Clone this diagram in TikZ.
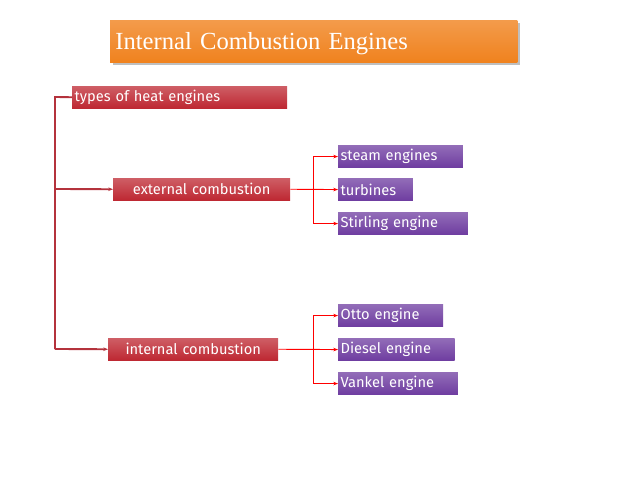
\documentclass[tikz,border=0pt]{standalone}
\usepackage{fontspec}
\setmainfont{Liberation Serif}
\newfontfamily\boxfont{Fira Sans}
\usetikzlibrary{arrows.meta,shadows}
\definecolor{hdOrange}{RGB}{240,130,30}
\definecolor{boxRed}{RGB}{190,40,50}
\definecolor{boxPurple}{RGB}{110,60,160}
\definecolor{trunkRed}{RGB}{180,50,60}

\begin{document}
\begin{tikzpicture}[x=0.03cm, y=-0.03cm,
        title/.style={rectangle, draw=none, top color=hdOrange!80, bottom color=hdOrange, minimum width=12.21cm, minimum height=1.26cm, font=\fontsize{21}{24}\selectfont, text=white, anchor=north west, text width=11.9cm, align=left, drop shadow},
        redbox/.style={rectangle, draw=none, top color=boxRed!75, bottom color=boxRed, minimum height=0.66cm, inner sep=2pt, font=\boxfont\fontsize{12.5}{14}\selectfont, text=white, anchor=north west, align=left},
        purplebox/.style={rectangle, draw=none, top color=boxPurple!75, bottom color=boxPurple, minimum height=0.68cm, inner sep=2pt, font=\boxfont\fontsize{12.5}{14}\selectfont, text=white, anchor=north west, align=left},
        trunk/.style={draw=trunkRed, line width=1.6pt, -{Stealth[length=4pt]}},
        branch/.style={draw=red, line width=0.8pt, -{Stealth[length=4pt]}}
    ]
        \useasboundingbox (0,0) rectangle (638,478);
        \node[title, text depth=0pt] (head) at (110,20) {Internal Combustion Engines};
        % left column
        \node[redbox, minimum width=6.45cm, text width=6.3cm] (types) at (72,86) {types of heat engines};
        \node[redbox, minimum width=5.31cm, text width=5.1cm, align=center] (ext) at (113,178) {external combustion};
        \node[redbox, minimum width=5.1cm, text width=4.9cm, align=center] (int) at (108,338) {internal combustion};
        % right column
        \node[purplebox, minimum width=3.72cm, text width=3.6cm] (steam) at (338,145) {steam engines};
        \node[purplebox, minimum width=2.22cm, text width=2.1cm] (turb) at (338,178) {turbines};
        \node[purplebox, minimum width=3.87cm, text width=3.75cm] (stir) at (338,212) {Stirling engine};
        \node[purplebox, minimum width=3.15cm, text width=3.0cm] (otto) at (338,304) {Otto engine};
        \node[purplebox, minimum width=3.48cm, text width=3.35cm] (dies) at (338,338) {Diesel engine};
        \node[purplebox, minimum width=3.57cm, text width=3.45cm] (vank) at (338,372) {Vankel engine};
        % connectors
        \coordinate (top) at (55,97);
        \draw[draw=trunkRed, line width=1.6pt] (types.west) -- (top) -- (55,349);
        \draw[trunk] (55,189) -- (ext.west);
        \draw[trunk] (55,349) -- (int.west);
        \draw[branch] (ext.east) -- (turb.west);
        \draw[branch] (313,189) |- (steam.west);
        \draw[branch] (313,189) |- (stir.west);
        \draw[branch] (int.east) -- (dies.west);
        \draw[branch] (313,349) |- (otto.west);
        \draw[branch] (313,349) |- (vank.west);
    \end{tikzpicture}
\end{document}
